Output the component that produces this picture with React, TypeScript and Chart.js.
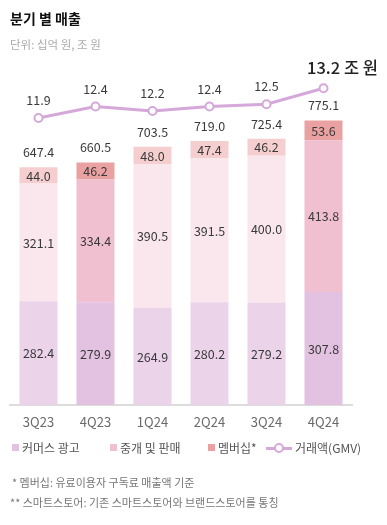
import React, { useEffect, useRef } from "react";
import { Chart, registerables } from "chart.js";

Chart.register(...registerables);

const quarters = ["3Q23", "4Q23", "1Q24", "2Q24", "3Q24", "4Q24"];
const commerceAd = [282.4, 279.9, 264.9, 280.2, 279.2, 307.8];
const brokerage = [321.1, 334.4, 390.5, 391.5, 400.0, 413.8];
const membership = [44.0, 46.2, 48.0, 47.4, 46.2, 53.6];
const totals = [647.4, 660.5, 703.5, 719.0, 725.4, 775.1];
const gmv = [11.9, 12.4, 12.2, 12.4, 12.5, 13.2];
const highlighted = [false, true, false, false, false, true];

const FONT = "'Noto Sans CJK KR', 'Noto Sans', sans-serif";

const adColors = highlighted.map((h) => (h ? "#e2c2e0" : "#ebd3ea"));
const brokerColors = highlighted.map((h) => (h ? "#f0bfd0" : "#f9e7ed"));
const memberColors = highlighted.map((h) => (h ? "#e9a1a1" : "#f5cfcf"));
const LINE_COLOR = "#d5a8d9";

const labelPlugin = {
  id: "valueLabels",
  afterDatasetsDraw(chart: any) {
    const ctx = chart.ctx;
    ctx.save();
    ctx.textAlign = "center";
    ctx.textBaseline = "middle";
    ctx.fillStyle = "#3a3a3a";
    ctx.font = `12.5px ${FONT}`;
    const series = [commerceAd, brokerage, membership];
    for (let i = 1; i <= 3; i++) {
      const meta = chart.getDatasetMeta(i);
      meta.data.forEach((bar: any, j: number) => {
        const { x, y, base } = bar.getProps(["x", "y", "base"], true);
        ctx.fillText(series[i - 1][j].toFixed(1), x, (y + base) / 2 + 0.5);
      });
    }
    const topMeta = chart.getDatasetMeta(3);
    topMeta.data.forEach((bar: any, j: number) => {
      const { x, y } = bar.getProps(["x", "y"], true);
      ctx.fillText(totals[j].toFixed(1), x, y - 15);
    });
    const lineMeta = chart.getDatasetMeta(0);
    lineMeta.data.forEach((pt: any, j: number) => {
      const { x, y } = pt.getProps(["x", "y"], true);
      if (j === gmv.length - 1) {
        ctx.font = `500 16.5px ${FONT}`;
        ctx.fillStyle = "#222";
        ctx.fillText(`${gmv[j].toFixed(1)} 조 원`, x + 19, y - 21);
      } else {
        ctx.fillText(gmv[j].toFixed(1), x, y - 17.5);
      }
    });
    ctx.restore();
  },
};

function LegendBox({ color, left, text }: { color: string; left: number; text: string }) {
  return (
    <>
      <div style={{ position: "absolute", left, top: 444, width: 7, height: 7, background: color }} />
      <div style={{ position: "absolute", left: left + 10, top: 439, fontSize: 12, color: "#555", lineHeight: "17px", whiteSpace: "nowrap" }}>{text}</div>
    </>
  );
}

export default function App() {
  const ref = useRef<HTMLCanvasElement | null>(null);
  useEffect(() => {
    if (!ref.current) return;
    const chart = new Chart(ref.current, {
      type: "bar",
      data: {
        labels: quarters,
        datasets: [
          {
            type: "line",
            label: "거래액(GMV)",
            data: gmv,
            yAxisID: "y1",
            borderColor: LINE_COLOR,
            borderWidth: 3,
            pointRadius: 4,
            pointBorderWidth: 2,
            pointBackgroundColor: "#fff",
            pointBorderColor: LINE_COLOR,
            tension: 0,
            order: 0,
            clip: false,
          } as any,
          { label: "커머스 광고", data: commerceAd, backgroundColor: adColors, stack: "s", order: 1, yAxisID: "y" },
          { label: "중개 및 판매", data: brokerage, backgroundColor: brokerColors, stack: "s", order: 1, yAxisID: "y" },
          { label: "멤버십*", data: membership, backgroundColor: memberColors, stack: "s", order: 1, yAxisID: "y" },
        ],
      },
      options: {
        responsive: false,
        animation: false,
        layout: { padding: { left: 10, right: 35, top: 60, bottom: 90 } },
        datasets: { bar: { categoryPercentage: 1, barPercentage: 0.667, borderWidth: 0 } },
        scales: {
          x: {
            stacked: true,
            grid: { display: false, drawTicks: false },
            border: { color: "#dcdcdc", width: 2 },
            ticks: { color: "#6a6a6a", font: { size: 13, family: FONT }, padding: 9 },
            afterFit: (scale: any) => {
              scale.height = 30;
            },
          },
          y: { stacked: true, display: false, min: 0, max: 940 },
          y1: { display: false, min: -0.69, max: 14.44 },
        },
        plugins: { legend: { display: false }, tooltip: { enabled: false } },
      } as any,
      plugins: [labelPlugin],
    });
    return () => chart.destroy();
  }, []);

  return (
    <div style={{ position: "absolute", left: 0, top: 0, width: 387, height: 525, background: "#fff", fontFamily: FONT, overflow: "hidden" }}>
      <canvas ref={ref} width={387} height={525} style={{ position: "absolute", left: 0, top: 0, display: "block" }} />
      <div style={{ position: "absolute", left: 10, top: 8, fontSize: 14, fontWeight: 700, color: "#111", lineHeight: "20px" }}>분기 별 매출</div>
      <div style={{ position: "absolute", left: 10, top: 36, fontSize: 11.5, color: "#aaa", lineHeight: "16px" }}>단위: 십억 원, 조 원</div>
      <LegendBox color="#e2c2e0" left={12} text="커머스 광고" />
      <LegendBox color="#f0bfd0" left={110} text="중개 및 판매" />
      <LegendBox color="#e9a1a1" left={208} text="멤버십*" />
      <div style={{ position: "absolute", left: 266, top: 446.5, width: 26, height: 3, background: LINE_COLOR }} />
      <div style={{ position: "absolute", left: 274, top: 443, width: 6, height: 6, borderRadius: "50%", border: `2px solid ${LINE_COLOR}`, background: "#fff" }} />
      <div style={{ position: "absolute", left: 295, top: 439, fontSize: 12, color: "#555", lineHeight: "17px", whiteSpace: "nowrap" }}>거래액(GMV)</div>
      <div style={{ position: "absolute", left: 12, top: 474, fontSize: 11, color: "#777", lineHeight: "16px", whiteSpace: "nowrap" }}>* 멤버십: 유료이용자 구독료 매출액 기준</div>
      <div style={{ position: "absolute", left: 10, top: 494, fontSize: 11, color: "#777", lineHeight: "16px", whiteSpace: "nowrap" }}>** 스마트스토어: 기존 스마트스토어와 브랜드스토어를 통칭</div>
    </div>
  );
}
